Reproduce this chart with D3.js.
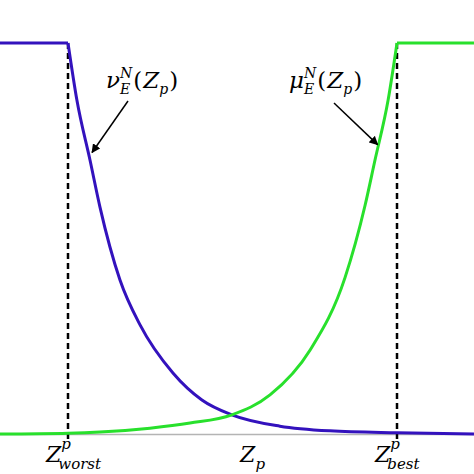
<!DOCTYPE html>
<html>
<head>
<meta charset="utf-8">
<script src="https://cdn.jsdelivr.net/npm/d3@7"></script>
<style>
  html, body { margin: 0; padding: 0; background: #fff; }
  svg { display: block; }
</style>
</head>
<body>
<div id="chart"></div>
<script>
'use strict';

// Z_p positions (0 = Z_worst, 1 = Z_best) and membership values
const nonMemberZ = [-0.207, 0, 0.027, 0.067, 0.097, 0.158, 0.219, 0.319, 0.407, 0.498, 0.644, 0.796, 1, 1.234];
const nonMemberV = [1, 1, 0.854, 0.70, 0.581, 0.394, 0.279, 0.156, 0.087, 0.049, 0.020, 0.008, 0.003, 0];
const memberZ = [-0.207, 0, 0.097, 0.249, 0.371, 0.498, 0.614, 0.736, 0.842, 0.903, 0.933, 0.973, 1, 1.234];
const memberV = [0, 0.002, 0.005, 0.015, 0.028, 0.049, 0.100, 0.215, 0.40, 0.585, 0.70, 0.854, 1, 1];
const boundZ = [0, 1];
const axisLabelZ = [0, 0.59, 1];

const W = 474, H = 474;

const svg = d3.select("#chart").append("svg")
  .attr("width", W)
  .attr("height", H);

// scales: Z_worst -> 68px, Z_best -> 397px
const x = d3.scaleLinear().domain([0, 1]).range([68, 397]);
const y = d3.scaleLinear().domain([0, 1]).range([434, 43]);

// baseline
svg.append("line")
  .attr("x1", 0).attr("x2", W)
  .attr("y1", y(0) + 0.5).attr("y2", y(0) + 0.5)
  .attr("stroke", "#b4b4b4")
  .attr("stroke-width", 1.5);

// dashed bounds
svg.selectAll(".bound")
  .data(boundZ)
  .enter()
  .append("line")
  .attr("class", "bound")
  .attr("x1", d => x(d)).attr("x2", d => x(d))
  .attr("y1", y(1)).attr("y2", y(0) + 9)
  .attr("stroke", "#000")
  .attr("stroke-width", 2.5)
  .attr("stroke-dasharray", "6,4");

// the two curves: flat part straight, sloped part smooth
function drawCurve(zs, vs, color, flatFirst) {
  const pts = zs.map((z, i) => [z, vs[i]]);
  const flat = flatFirst ? pts.slice(0, 2) : pts.slice(-2);
  const slope = flatFirst ? pts.slice(1) : pts.slice(0, -1);
  const lineFlat = d3.line().x(d => x(d[0])).y(d => y(d[1]));
  const lineSlope = d3.line().x(d => x(d[0])).y(d => y(d[1])).curve(d3.curveMonotoneX);
  const g = svg.append("g")
    .attr("fill", "none")
    .attr("stroke", color)
    .attr("stroke-width", 3)
    .attr("stroke-linejoin", "round");
  g.append("path").attr("d", lineFlat(flat));
  g.append("path").attr("d", lineSlope(slope));
}

drawCurve(nonMemberZ, nonMemberV, "#3312bd", true);
drawCurve(memberZ, memberV, "#28e02c", false);

// arrows
const defs = svg.append("defs");
defs.append("marker")
  .attr("id", "arrow")
  .attr("viewBox", "0 0 10 10")
  .attr("refX", 9).attr("refY", 5)
  .attr("markerWidth", 9).attr("markerHeight", 9)
  .attr("markerUnits", "userSpaceOnUse")
  .attr("orient", "auto")
  .append("path")
  .attr("d", "M0,0 L10,5 L0,10 Z")
  .attr("fill", "#000");

const arrows = [
  {from: [128, 101], to: [0.067, 0.72]},
  {from: [334, 103], to: [0.935, 0.74]}
];
svg.selectAll(".arrow")
  .data(arrows)
  .enter()
  .append("line")
  .attr("x1", d => d.from[0]).attr("y1", d => d.from[1])
  .attr("x2", d => x(d.to[0]) + 2).attr("y2", d => y(d.to[1]))
  .attr("stroke", "#000")
  .attr("stroke-width", 1.5)
  .attr("marker-end", "url(#arrow)");

// math-ish labels built from pieces
const fontFam = "'DejaVu Serif', 'Liberation Serif', serif";
function mathLabel(x0, y0, parts, size, scriptSize, supDy, subDy) {
  const g = svg.append("g").attr("font-family", fontFam).attr("fill", "#000");
  let cx = x0;
  parts.forEach(p => {
    if (p.t !== undefined) {
      const t = g.append("text")
        .attr("x", cx).attr("y", y0)
        .attr("font-size", size)
        .attr("font-style", p.up ? "normal" : "italic")
        .text(p.t);
      cx += t.node().getComputedTextLength() + (p.gap || 0);
    } else {
      let w = 0;
      if (p.sup) {
        const s = g.append("text")
          .attr("x", cx).attr("y", y0 + supDy)
          .attr("font-size", scriptSize)
          .attr("font-style", "italic")
          .text(p.sup);
        w = Math.max(w, s.node().getComputedTextLength());
      }
      if (p.sub) {
        const s = g.append("text")
          .attr("x", cx - (p.subShift || 0)).attr("y", y0 + subDy)
          .attr("font-size", scriptSize)
          .attr("font-style", "italic")
          .text(p.sub);
        w = Math.max(w, s.node().getComputedTextLength() - (p.subShift || 0));
      }
      cx += w + 1;
    }
  });
}

// curve labels
mathLabel(106, 88, [
  {t: "\u03bd"}, {sup: "N", sub: "E"}, {t: "(", up: true, gap: 1}, {t: "Z"}, {sub: "p"}, {t: ")", up: true}
], 23, 14, -10, 6);
mathLabel(289, 88, [
  {t: "\u03bc"}, {sup: "N", sub: "E"}, {t: "(", up: true, gap: 1}, {t: "Z"}, {sub: "p"}, {t: ")", up: true}
], 23, 14, -10, 6);

// axis labels
const axisParts = [
  [{t: "Z"}, {sup: "p", sub: "worst", subShift: 3}],
  [{t: "Z"}, {sub: "p"}],
  [{t: "Z"}, {sup: "p", sub: "best", subShift: 3}]
];
axisLabelZ.forEach((z, i) => {
  mathLabel(x(z) - 22, 462, axisParts[i], 22, 15, -13, 7);
});
</script>
</body>
</html>
